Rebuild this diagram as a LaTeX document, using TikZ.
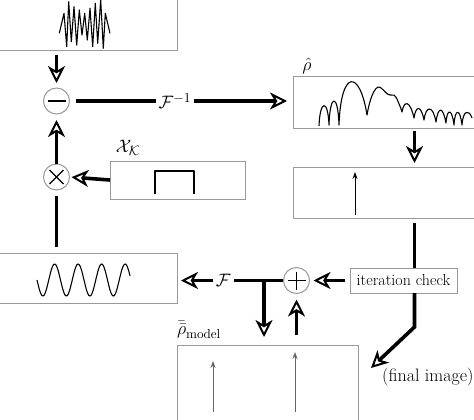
\documentclass[tikz,border=0pt]{standalone}
\usepackage{fontspec}
\usetikzlibrary{arrows.meta}
\newcommand{\mlabelx}[1]{\scalebox{1.25}{$#1$}}
\begin{document}
\begin{tikzpicture}[x=1pt,y=-1pt,
  every node/.style={font=\fontsize{15}{18}\selectfont},
  box/.style={draw=black!40, line width=1pt, inner sep=0pt, outer sep=0pt, rectangle},
  circ/.style={circle, draw=black!40, line width=1pt, minimum size=26pt, inner sep=0pt, outer sep=0pt},
  sym/.style={line width=1.3pt, black},
  arr/.style={line width=3.6pt, -{Stealth[open, length=17pt, width=17pt, inset=5pt, line width=2pt]}},
  conn/.style={line width=3.6pt},
  sig/.style={line width=1.1pt, line join=round, black},
  spike/.style={line width=0.9pt, -{Stealth[length=7pt, width=5pt]}},
  lbl/.style={fill=white, inner sep=3pt}]
\useasboundingbox (0,0) rectangle (474,420);

% boxes
\node[box, minimum width=179pt, minimum height=53pt] (top) at (87.5,24.5) {};
\node[box, minimum width=183pt, minimum height=51pt] (rhohat) at (384.5,102.5) {};
\node[box, minimum width=183pt, minimum height=51pt] (box2) at (384.5,192.5) {};
\node[box, minimum width=135pt, minimum height=38pt] (chi) at (177.5,180) {};
\node[box, minimum width=179pt, minimum height=50pt] (sine) at (87.5,278) {};
\node[box, minimum width=181pt, minimum height=80pt] (model) at (267.5,385) {};
\node[box, minimum width=107pt, minimum height=25pt, font=\fontsize{16}{19}\selectfont] (iter) at (403.5,280.5) {iteration check};
\node[anchor=west, inner sep=0pt, font=\fontsize{18}{21}\selectfont] (final) at (382,377) {(final image)};

% circles
\node[circ] (minus) at (56.5,101) {};
\node[circ] (times) at (56.5,177) {};
\node[circ] (plus) at (296.5,280.5) {};
\draw[sym] (minus) ++(-9,0) -- ++(18,0);
\draw[sym] (times) ++(-7,-7) -- ++(14,14);
\draw[sym] (times) ++(-7,7) -- ++(14,-14);
\draw[sym] (plus) ++(-9,0) -- ++(18,0);
\draw[sym] (plus) ++(0,-9) -- ++(0,18);

% labels
\node (lrhohat) at (307,66) {\mlabelx{\hat\rho}};
\node (lchi) at (128,148) {\mlabelx{\mathcal{X}_{\mathcal{K}}}};
\node (lmodel) at (199,330) {\mlabelx{\bar{\bar{\rho}}_{\mathrm{model}}}};

% coordinates
\coordinate (cx) at (414.5,0);
\coordinate (bend) at (414.5,327);
\coordinate (fintip) at (371,368);
\coordinate (tj) at (264,280.5);

% connectors
\draw[arr, shorten <=4pt, shorten >=5pt] (minus |- top.south) -- (minus.north);
\draw[arr, shorten <=6pt, shorten >=6pt] (minus.east) -- node[lbl, pos=0.472] {\mlabelx{\mathcal{F}^{-1}}} (rhohat.west |- minus.east);
\draw[arr, shorten <=3pt, shorten >=4pt] (cx |- rhohat.south) -- (cx |- box2.north);
\draw[conn, shorten <=5pt] (cx |- box2.south) -- (cx |- iter.north);
\draw[arr] (cx |- iter.south) -- (bend) -- (fintip);
\draw[arr, shorten <=5pt, shorten >=4pt] (iter.west) -- (plus.east);
\draw[arr, shorten <=1pt, shorten >=4pt] (plus.west) -- node[lbl, pos=0.565] {\mlabelx{\mathcal{F}}} (sine.east |- plus.west);
\draw[arr, shorten >=8pt] (tj) -- (tj |- model.north);
\draw[arr, shorten <=10pt, shorten >=6pt] (plus |- model.north) -- (plus.south);
\draw[arr, shorten >=2pt] (chi.west) -- (times.east);
\draw[arr, shorten >=6pt] (times.north) -- (minus.south);
\draw[conn, shorten <=6pt, shorten >=6pt] (times |- sine.north) -- (times.south);

% signals
\draw[sig] (59.3,33.3) -- (64,13.3) -- (66.7,46.7) -- (68.7,1.7) -- (71.3,41.7) -- (74,6.7)
  -- (76.7,45) -- (79.3,10) -- (82,35) -- (84.7,13.3) -- (87.3,40) -- (90,8.3) -- (92.7,46.7)
  -- (95.3,3.3) -- (97.7,43.3) -- (100.7,0) -- (103.3,48.3) -- (105.3,13.3) -- (110,33.3);

\draw[sig] (319,126) .. controls (320,99) and (328,99) .. (329,125)
  .. controls (330,93) and (338,93) .. (339,125)
  .. controls (341,68) and (360,70) .. (367,115)
  .. controls (371,92) and (377,84) .. (381,88)
  .. controls (384,90) and (387,95) .. (390,95)
  .. controls (393,94) and (395,95) .. (397,99)
  .. controls (399,104) and (401,108) .. (402,112)
  .. controls (404,100) and (410,100) .. (414,118)
  .. controls (416,105) and (421,105) .. (424,120)
  .. controls (426,105) and (433,105) .. (436,122)
  .. controls (438,106) and (443,106) .. (446,123)
  .. controls (447,108) and (452,108) .. (454,125)
  .. controls (455,108) and (460,108) .. (462,125)
  .. controls (463,110) and (469,109) .. (472,118);

\draw[sig] (155,194) -- (155,171) -- (194,171) -- (194,194);

\draw[sig, domain=37:130, samples=120, smooth] plot (\x, {280+16*sin(15.3191*(\x-37))});

% spikes
\draw[spike] (355,215) -- (355,172);
\draw[spike, black!60] (213,412) -- (213,361);
\draw[spike, black!60] (295,412) -- (295,352);
\end{tikzpicture}
\end{document}
